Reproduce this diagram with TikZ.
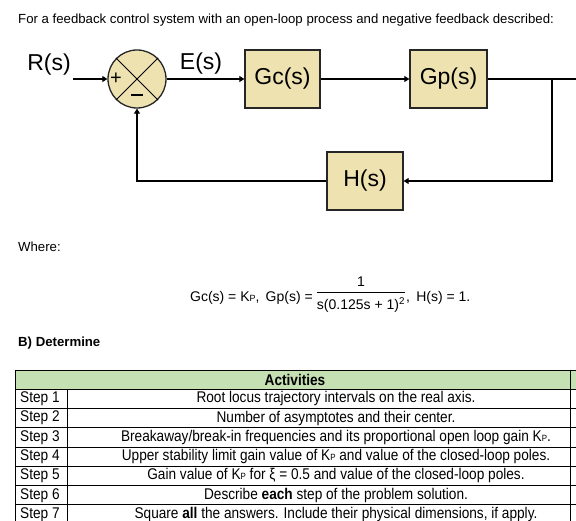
\documentclass[tikz,border=0pt]{standalone}
\usepackage{fontspec}
\setmainfont{Liberation Sans}
\newfontfamily\narrowfont[FakeStretch=0.88]{Liberation Sans}
\usetikzlibrary{arrows.meta}
\definecolor{blockfill}{HTML}{EEE2B0}
\definecolor{headgreen}{HTML}{C5E0B3}
\tikzset{
  blk/.style={draw=black!85, line width=1.3pt, fill=blockfill, minimum width=75pt, minimum height=58pt, inner sep=0pt, font=\fontsize{23}{23}\selectfont},
  sig/.style={line width=1.1pt, -{Triangle[length=5pt,width=6pt]}},
  wire/.style={line width=1.1pt},
  lbl/.style={inner sep=0pt, font=\fontsize{23}{23}\selectfont},
  txt/.style={inner sep=0pt, font=\fontsize{13.2}{15}\selectfont},
  eqt/.style={inner sep=0pt, font=\fontsize{14}{16}\selectfont},
  cell/.style={inner sep=0pt, font=\narrowfont\fontsize{15.5}{16}\selectfont},
  grid/.style={line width=0.8pt}
}
\newcommand{\KP}{K{\fontsize{9}{9}\selectfont P}}
\begin{document}
\begin{tikzpicture}[x=1pt,y=-1pt]
\useasboundingbox[fill=white] (0,0) rectangle (576,521);
% title
\node[txt, anchor=west] (title) at (18,20) {For a feedback control system with an open-loop process and negative feedback described:};
% block diagram
\node[lbl] (rlab) at (49,65) {R(s)};
\coordinate (in) at (73,79);
\node[circle, draw=black!85, line width=1.3pt, fill=blockfill, minimum size=58pt, inner sep=0pt] (sum) at (137,79) {};
\draw[line width=1pt] (sum.north west) -- (sum.south east);
\draw[line width=1pt] (sum.north east) -- (sum.south west);
\node[inner sep=0pt, font=\fontsize{20}{20}\selectfont] (plus) at (116,79) {+};
\draw[line width=1.2pt] (131,95) -- (143,95);
\node[lbl] (elab) at (201,64) {E(s)};
\node[blk] (gc) at (282.5,79) {Gc(s)};
\node[blk, minimum width=77pt] (gp) at (448.5,79) {Gp(s)};
\node[blk, minimum width=76pt] (h) at (365,181) {H(s)};
\coordinate (out) at (576,79);
\coordinate (br) at (552,79);
\coordinate (brd) at (552,181);
\coordinate (fbl) at (137,181);
\draw[sig] (in) -- (sum);
\draw[sig] (sum) -- (gc);
\draw[sig] (gc) -- (gp);
\draw[wire] (gp) -- (out);
\draw[sig] (br) -- (brd) -- (h);
\draw[sig] (h) -- (fbl) -- (sum);
% where
\node[txt, anchor=west] (where) at (18,247) {Where:};
\node[eqt, anchor=base east] (eqa) at (313,302) {Gc(s) = \KP,\, Gp(s) =};
\node[eqt, anchor=base] (num) at (361,287) {1};
\draw[line width=0.7pt] (317,292.5) -- (405,292.5);
\node[eqt, anchor=base] (den) at (361,310) {s(0.125s + 1)\textsuperscript{2}};
\node[eqt, anchor=base west] (eqb) at (406,302) {, \,H(s) = 1.};
\node[txt, anchor=west, font=\bfseries\fontsize{13.2}{15}\selectfont] (bdet) at (18,343) {B) Determine};
% table
\fill[headgreen] (15,370) rectangle (576,389);
\foreach \y in {370,389,408.3,427.6,446.9,466.2,485.5,504.8}
  \draw[grid] (15,\y) -- (576,\y);
\draw[grid] (15,370) -- (15,521);
\draw[grid] (67,389) -- (67,521);
\draw[grid] (570,370) -- (570,521);
\node[cell, font=\narrowfont\bfseries\fontsize{15.5}{16}\selectfont] (hdr) at (295,379.5) {Activities};
\foreach \i/\t [count=\k from 0] in {
 1/{Root locus trajectory intervals on the real axis.},
 2/{Number of asymptotes and their center.},
 3/{Breakaway/break-in frequencies and its proportional open loop gain \KP.},
 4/{Upper stability limit gain value of \KP\ and value of the closed-loop poles.},
 5/{Gain value of \KP\ for ξ = 0.5 and value of the closed-loop poles.},
 6/{Describe \textbf{each} step of the problem solution.},
 7/{Square \textbf{all} the answers. Include their physical dimensions, if apply.}}
{
  \node[cell, anchor=west] (s\i) at (20,398.7+19.3*\k) {Step \i};
  \node[cell] (a\i) at (336,398.7+19.3*\k) {\t};
}
\end{tikzpicture}
\end{document}
